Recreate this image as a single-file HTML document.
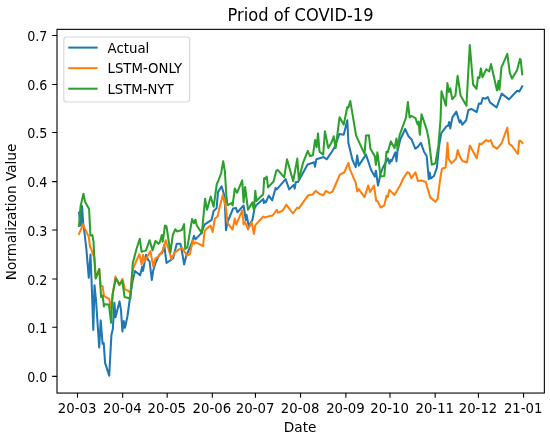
<!DOCTYPE html>
<html lang="en"><head><meta charset="utf-8"><title>Priod of COVID-19</title>
<style>html,body{margin:0;padding:0;background:#fff;}body{width:550px;height:437px;overflow:hidden;}</style>
</head><body>
<svg width="550" height="437" viewBox="0 0 550 437" style="display:block">
<rect width="550" height="437" fill="#fff"/>
<g font-family="'DejaVu Sans', 'Liberation Sans', sans-serif" font-size="13.65" fill="#000">
<clipPath id="c"><rect x="57.0" y="29.35" width="487.35" height="363.7"/></clipPath>
<g clip-path="url(#c)" fill="none" stroke-width="2.05" stroke-linejoin="round" stroke-linecap="square">
<polyline stroke="#1f77b4" points="79.0,212.7 80.8,225.5 82.0,205.9 83.3,224.5 84.8,235.0 86.5,250.5 88.8,277.8 90.5,254.5 91.9,290.0 93.3,329.9 94.5,285.2 96.0,300.0 99.2,347.5 100.7,320.4 102.6,343.8 103.7,343.1 105.1,362.9 109.2,375.8 111.4,335.0 112.8,329.2 114.4,302.8 115.5,317.3 119.5,301.4 121.0,310.0 122.4,331.4 123.8,321.1 125.0,327.7 127.5,316.0 130.2,296.0 132.8,280.0 135.0,271.0 140.1,275.3 142.3,266.5 143.0,270.9 146.0,254.8 148.2,260.0 149.6,261.4 151.8,280.0 153.3,270.2 155.5,263.0 159.2,254.8 162.4,252.6 164.3,245.3 166.5,262.9 170.9,260.0 173.1,258.5 176.7,243.8 180.4,243.8 181.9,251.0 184.1,264.4 186.3,255.6 189.9,247.5 192.6,240.5 194.0,235.8 195.4,239.4 200.9,233.6 204.8,224.4 211.6,219.8 213.6,211.0 216.6,208.2 218.0,192.1 221.6,186.3 224.6,196.5 226.0,230.2 227.5,222.2 233.1,208.5 235.9,207.9 237.5,212.3 243.6,205.5 245.8,220.0 246.5,214.8 248.7,225.8 252.4,220.0 254.6,208.2 256.2,205.2 263.3,199.0 263.9,203.0 265.0,201.3 265.8,202.4 268.8,195.6 272.2,200.3 275.6,187.9 276.8,189.4 285.6,179.1 289.2,189.4 293.6,185.0 294.7,188.6 295.8,182.0 298.0,182.0 307.6,164.5 314.2,162.3 314.9,166.7 316.4,159.3 323.7,157.1 326.6,159.3 331.7,152.0 334.9,146.5 339.3,134.1 343.7,134.8 347.3,120.2 348.4,143.0 352.5,160.0 355.7,167.1 357.2,155.4 358.7,165.6 366.0,154.6 371.1,170.0 374.8,176.6 375.9,170.7 378.0,185.5 380.6,173.7 382.8,167.8 388.0,158.3 389.4,163.4 390.5,160.0 391.6,161.2 395.3,152.4 396.5,161.2 397.5,151.0 400.4,139.2 405.2,129.0 408.5,136.3 411.4,139.2 415.4,148.8 418.0,146.6 420.9,142.9 424.0,151.7 426.7,156.0 428.8,179.1 429.6,172.5 430.8,178.4 434.0,176.0 436.9,167.7 439.1,145.7 441.3,133.2 446.4,126.4 448.1,125.8 449.2,122.0 450.3,128.4 452.4,117.4 456.3,111.6 459.6,122.5 460.7,120.4 462.2,124.7 466.2,120.2 468.3,110.2 471.2,108.9 476.7,112.0 478.9,103.6 481.1,103.8 482.7,98.0 485.6,98.7 487.8,97.2 490.0,102.4 496.6,107.5 501.7,93.6 509.0,99.4 517.1,90.7 519.3,91.4 522.2,86.3"/>
<polyline stroke="#ff7f0e" points="79.0,234.0 83.1,224.4 84.3,227.4 88.8,237.0 90.0,246.5 91.2,249.0 92.6,253.5 94.3,257.5 95.7,277.8 99.3,269.3 100.6,285.5 102.6,286.3 104.0,296.2 109.3,299.0 111.0,309.0 112.4,297.0 115.4,276.6 119.4,285.3 122.4,278.9 124.9,289.4 128.5,291.0 130.4,293.0 131.9,277.0 133.5,267.3 139.4,254.1 141.6,264.4 143.0,254.8 144.5,261.4 150.4,251.2 153.3,266.5 155.5,258.5 158.0,257.0 162.4,251.2 165.8,240.2 171.6,259.2 174.5,252.6 181.9,247.5 187.0,255.6 189.9,254.1 192.9,240.2 194.3,243.8 195.8,242.4 203.1,246.0 204.0,236.5 204.6,231.0 206.2,229.1 210.5,225.5 212.6,232.0 214.9,218.5 217.5,216.5 219.6,207.5 222.8,195.0 226.0,208.2 227.5,222.9 232.6,229.5 234.8,218.5 236.3,224.4 242.2,210.4 243.6,224.4 245.1,222.0 248.0,229.5 251.7,222.2 253.9,233.9 255.3,225.1 263.4,216.5 264.9,217.5 270.0,216.0 272.6,215.5 276.8,209.9 278.0,212.8 282.7,210.6 286.3,204.7 292.9,213.5 297.3,207.7 298.8,208.4 308.3,195.2 312.7,194.5 315.6,190.8 319.3,193.8 323.4,195.2 325.9,190.8 329.5,193.0 332.5,191.6 335.4,185.0 339.8,174.7 344.2,172.5 348.4,162.8 349.9,169.4 355.7,182.6 357.2,191.4 358.7,189.2 364.5,197.2 368.2,185.5 370.1,192.1 374.0,185.5 376.2,200.9 377.5,200.9 380.6,207.5 384.3,205.3 386.5,195.8 387.7,197.0 389.4,189.9 394.5,195.0 400.4,184.8 402.6,179.6 407.3,172.3 409.2,172.9 411.4,178.2 415.4,172.3 418.0,181.1 421.5,180.6 425.9,182.0 427.4,187.9 430.3,197.4 435.4,201.8 437.6,198.9 440.6,176.2 442.0,168.8 445.7,167.5 447.5,142.8 448.6,158.9 451.6,163.3 456.0,158.9 457.7,150.1 459.6,156.0 462.5,161.1 466.9,162.5 469.9,145.5 476.7,158.3 479.5,143.6 481.2,144.4 486.3,140.0 488.5,141.5 490.7,140.0 492.9,145.9 497.0,148.8 501.7,143.0 507.3,127.6 509.0,143.7 512.0,145.9 517.8,154.0 519.3,140.8 520.7,140.8 522.5,143.0"/>
<polyline stroke="#2ca02c" points="79.0,225.9 80.5,206.6 83.4,193.7 85.0,201.7 89.1,209.0 90.4,235.4 92.3,234.9 93.5,241.5 94.2,255.0 95.7,278.6 99.2,269.0 100.4,286.6 101.1,296.9 102.6,295.5 103.9,306.5 104.6,304.3 108.9,304.5 111.1,322.8 112.6,294.0 115.8,278.6 119.7,284.4 122.4,280.8 124.5,296.9 130.4,298.4 131.9,276.4 132.8,262.9 136.5,249.0 139.8,238.7 141.6,251.9 146.0,250.4 149.6,240.2 152.6,250.4 155.5,240.9 158.4,243.8 159.9,242.0 161.8,235.0 162.8,241.6 165.0,225.5 166.5,226.3 170.4,252.6 172.8,235.0 175.3,229.2 177.0,231.4 181.9,229.9 184.1,224.1 185.2,249.0 187.3,247.5 192.1,218.9 194.0,223.3 195.4,219.7 196.8,225.5 201.9,233.1 205.1,198.7 207.0,209.7 210.7,196.5 213.6,206.8 216.8,184.0 218.3,181.0 221.2,173.0 223.2,161.2 224.9,171.5 226.3,195.0 227.5,205.3 231.2,203.1 232.6,205.3 234.8,188.5 237.0,192.8 242.2,180.4 243.6,202.4 245.1,187.0 248.0,209.7 252.4,202.4 253.9,210.4 255.3,190.7 256.4,200.9 263.2,194.3 264.2,178.1 265.4,178.9 266.7,176.6 268.1,187.4 273.5,181.5 276.4,170.6 277.7,169.8 284.2,177.3 287.0,159.3 293.2,181.3 297.3,158.6 298.8,179.8 303.2,162.3 307.8,150.9 310.0,156.1 312.9,155.3 315.1,140.0 316.6,147.3 318.0,133.4 319.5,151.7 323.2,154.6 324.9,131.2 328.3,148.0 332.0,141.4 333.7,136.3 335.6,148.0 339.6,117.2 343.7,124.6 347.3,107.0 348.3,107.7 350.3,101.1 356.1,135.6 364.5,153.9 366.0,135.6 368.9,135.3 370.4,148.8 374.8,156.1 375.9,164.9 377.4,152.4 380.6,176.6 384.3,175.9 386.5,151.7 387.7,152.4 390.9,141.4 394.5,148.0 396.5,138.5 397.5,149.5 399.7,134.8 406.0,117.5 407.9,102.1 409.6,117.5 411.1,115.8 415.5,118.2 417.6,124.5 418.6,121.5 419.8,134.7 421.5,114.2 426.7,129.6 428.8,139.8 431.8,164.7 435.4,163.3 438.4,145.7 440.5,120.0 441.5,91.2 445.9,105.8 447.4,83.1 448.8,91.9 450.3,88.2 452.2,99.2 455.4,95.6 457.6,75.8 460.6,95.6 466.4,105.8 469.8,45.0 473.1,84.5 476.5,88.9 478.0,77.2 479.4,78.0 480.9,68.4 482.4,77.2 486.3,69.2 489.2,71.4 491.0,64.0 497.0,90.4 498.5,80.9 499.5,89.7 501.4,67.7 507.3,53.8 509.8,72.8 512.0,78.7 517.1,69.9 520.0,58.9 520.7,59.6 522.2,74.3"/>
</g>
<rect x="57.0" y="29.35" width="487.35" height="363.7" fill="none" stroke="#000" stroke-width="1.09"/>
<path d="M77.50,393.05v4.8 M122.69,393.05v4.8 M167.18,393.05v4.8 M212.32,393.05v4.8 M255.45,393.05v4.8 M300.54,393.05v4.8 M345.84,393.05v4.8 M389.97,393.05v4.8 M435.16,393.05v4.8 M478.39,393.05v4.8 M523.59,393.05v4.8 M57.0,376.40h-4.8 M57.0,327.30h-4.8 M57.0,279.00h-4.8 M57.0,229.95h-4.8 M57.0,181.60h-4.8 M57.0,132.50h-4.8 M57.0,84.55h-4.8 M57.0,35.45h-4.8" stroke="#000" stroke-width="1.09" fill="none"/>
<text x="77.10" y="413.35" text-anchor="middle" textLength="38.6" lengthAdjust="spacingAndGlyphs">20-03</text>
<text x="122.29" y="413.35" text-anchor="middle" textLength="38.6" lengthAdjust="spacingAndGlyphs">20-04</text>
<text x="166.78" y="413.35" text-anchor="middle" textLength="38.6" lengthAdjust="spacingAndGlyphs">20-05</text>
<text x="211.92" y="413.35" text-anchor="middle" textLength="38.6" lengthAdjust="spacingAndGlyphs">20-06</text>
<text x="255.05" y="413.35" text-anchor="middle" textLength="38.6" lengthAdjust="spacingAndGlyphs">20-07</text>
<text x="300.14" y="413.35" text-anchor="middle" textLength="38.6" lengthAdjust="spacingAndGlyphs">20-08</text>
<text x="345.44" y="413.35" text-anchor="middle" textLength="38.6" lengthAdjust="spacingAndGlyphs">20-09</text>
<text x="389.57" y="413.35" text-anchor="middle" textLength="38.6" lengthAdjust="spacingAndGlyphs">20-10</text>
<text x="434.76" y="413.35" text-anchor="middle" textLength="38.6" lengthAdjust="spacingAndGlyphs">20-11</text>
<text x="478.00" y="413.35" text-anchor="middle" textLength="38.6" lengthAdjust="spacingAndGlyphs">20-12</text>
<text x="523.19" y="413.35" text-anchor="middle" textLength="38.6" lengthAdjust="spacingAndGlyphs">21-01</text>
<text x="47.4" y="382.1" text-anchor="end" textLength="20.2" lengthAdjust="spacingAndGlyphs">0.0</text>
<text x="47.4" y="333.0" text-anchor="end" textLength="20.2" lengthAdjust="spacingAndGlyphs">0.1</text>
<text x="47.4" y="284.7" text-anchor="end" textLength="20.2" lengthAdjust="spacingAndGlyphs">0.2</text>
<text x="47.4" y="235.6" text-anchor="end" textLength="20.2" lengthAdjust="spacingAndGlyphs">0.3</text>
<text x="47.4" y="187.3" text-anchor="end" textLength="20.2" lengthAdjust="spacingAndGlyphs">0.4</text>
<text x="47.4" y="138.2" text-anchor="end" textLength="20.2" lengthAdjust="spacingAndGlyphs">0.5</text>
<text x="47.4" y="90.2" text-anchor="end" textLength="20.2" lengthAdjust="spacingAndGlyphs">0.6</text>
<text x="47.4" y="41.2" text-anchor="end" textLength="20.2" lengthAdjust="spacingAndGlyphs">0.7</text>
<text x="300.1" y="432.2" text-anchor="middle">Date</text>
<text transform="translate(15.8,211.9) rotate(-90)" text-anchor="middle">Normalization Value</text>
<text x="300.5" y="20.7" text-anchor="middle" font-size="17" textLength="146.0" lengthAdjust="spacingAndGlyphs">Priod of COVID-19</text>
<rect x="63.8" y="37.0" width="125.8" height="65.0" rx="2.7" ry="2.7" fill="#fff" fill-opacity="0.8" stroke="#ccc" stroke-opacity="0.8" stroke-width="1.09"/>
<path d="M69.3,47.6h27.3" stroke="#1f77b4" stroke-width="2.05" fill="none" stroke-linecap="square"/>
<text x="107.5" y="53.1" textLength="41.8" lengthAdjust="spacingAndGlyphs">Actual</text>
<path d="M69.3,68.2h27.3" stroke="#ff7f0e" stroke-width="2.05" fill="none" stroke-linecap="square"/>
<text x="107.5" y="73.3" textLength="74.7" lengthAdjust="spacingAndGlyphs">LSTM-ONLY</text>
<path d="M69.3,88.7h27.3" stroke="#2ca02c" stroke-width="2.05" fill="none" stroke-linecap="square"/>
<text x="107.5" y="93.5" textLength="66.0" lengthAdjust="spacingAndGlyphs">LSTM-NYT</text>
</g></svg>
</body></html>
